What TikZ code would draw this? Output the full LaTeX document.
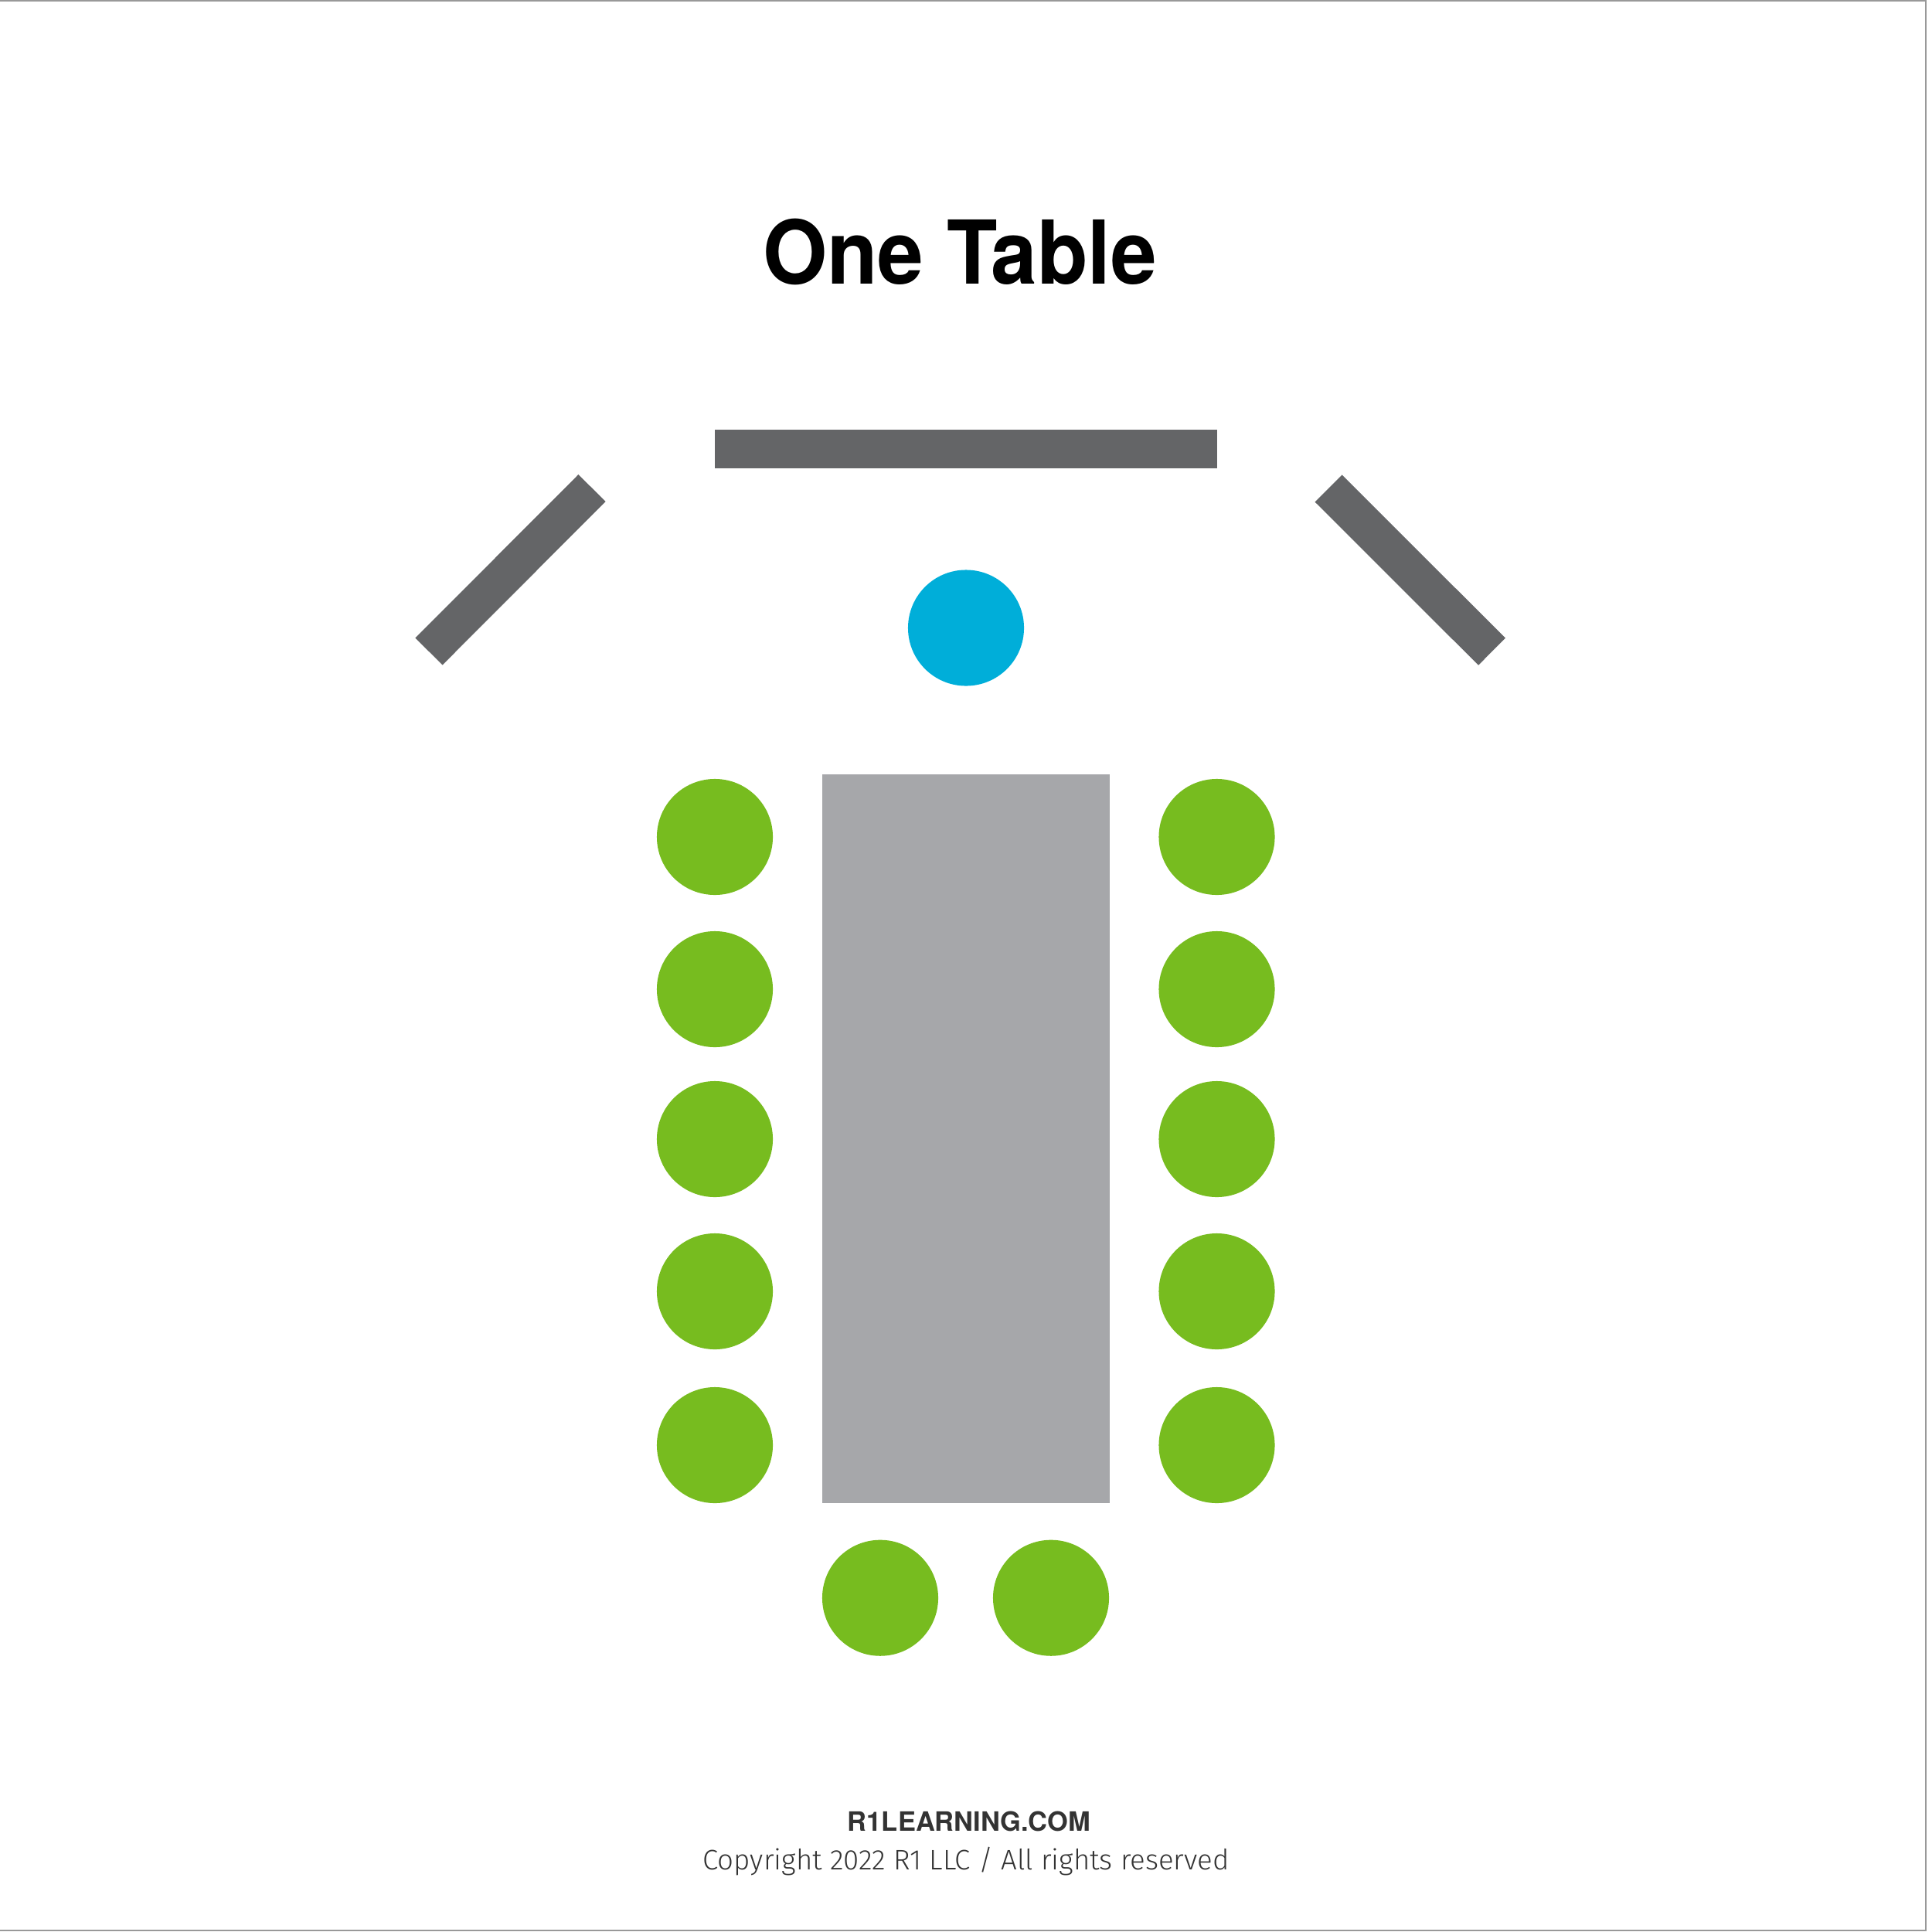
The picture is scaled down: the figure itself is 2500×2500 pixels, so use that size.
\documentclass[tikz,border=0pt]{standalone}
\usepackage{fontspec}
\setmainfont{TeX Gyre Heros}
\newfontfamily\titlefont[FakeStretch=0.94]{TeX Gyre Heros}
\newfontfamily\lightfont{Fira Sans Light}
\definecolor{bargray}{HTML}{646567}
\definecolor{tablegray}{HTML}{A6A7AA}
\definecolor{hostblue}{HTML}{00AED9}
\definecolor{chairgreen}{HTML}{77BC1F}
\definecolor{footgray}{HTML}{333333}
\tikzset{
  chair/.style={circle,fill=chairgreen,inner sep=0pt,minimum size=1.5cm},
  wall/.style={bargray,line width=0.495cm,line cap=butt}
}

\begin{document}
\begin{tikzpicture}[x=0.01cm,y=-0.01cm]
                \useasboundingbox (0,0) rectangle (2500,2500);
                \draw[gray!80,line width=0.02cm] (0,1)--(2492,1)--(2492,2498)--(0,2498);
                \node[anchor=base] (title) at (1242,367) {\titlefont\fontsize{32.4}{36}\selectfont\bfseries One Table};

                % screens
                \fill[bargray] (925,556) rectangle (1575,606);
                \draw[wall] (555,843)--(766,631.5);
                \draw[wall] (1930.5,843.2)--(1719,632);

                % presenter and table
                \node[circle,fill=hostblue,inner sep=0pt,minimum size=1.5cm] (host) at (1250,812.5) {};
                \node[fill=tablegray,inner sep=0pt,minimum width=3.715cm,minimum height=9.43cm] (table) at (1249.8,1473.3) {};

                \node[chair] (l1) at (925,1083) {};
                \node[chair] (l2) at (925,1280) {};
                \node[chair] (l3) at (925,1474) {};
                \node[chair] (l4) at (925,1671) {};
                \node[chair] (l5) at (925,1870) {};
                \node[chair] (r1) at (1574.5,1083) {};
                \node[chair] (r2) at (1574.5,1280) {};
                \node[chair] (r3) at (1574.5,1474) {};
                \node[chair] (r4) at (1574.5,1671) {};
                \node[chair] (r5) at (1574.5,1870) {};
                \node[chair] (b1) at (1139,2067.7) {};
                \node[chair] (b2) at (1360,2067.7) {};

                \node[anchor=base,text=footgray] (site) at (1254,2369) {\fontsize{9.8}{12}\selectfont\bfseries R1LEARNING.COM};
                \node[anchor=base,text=footgray] (copy) at (1250,2419) {\lightfont\fontsize{10.4}{12}\selectfont Copyright 2022 R1 LLC / All rights reserved};
            \end{tikzpicture}
\end{document}
